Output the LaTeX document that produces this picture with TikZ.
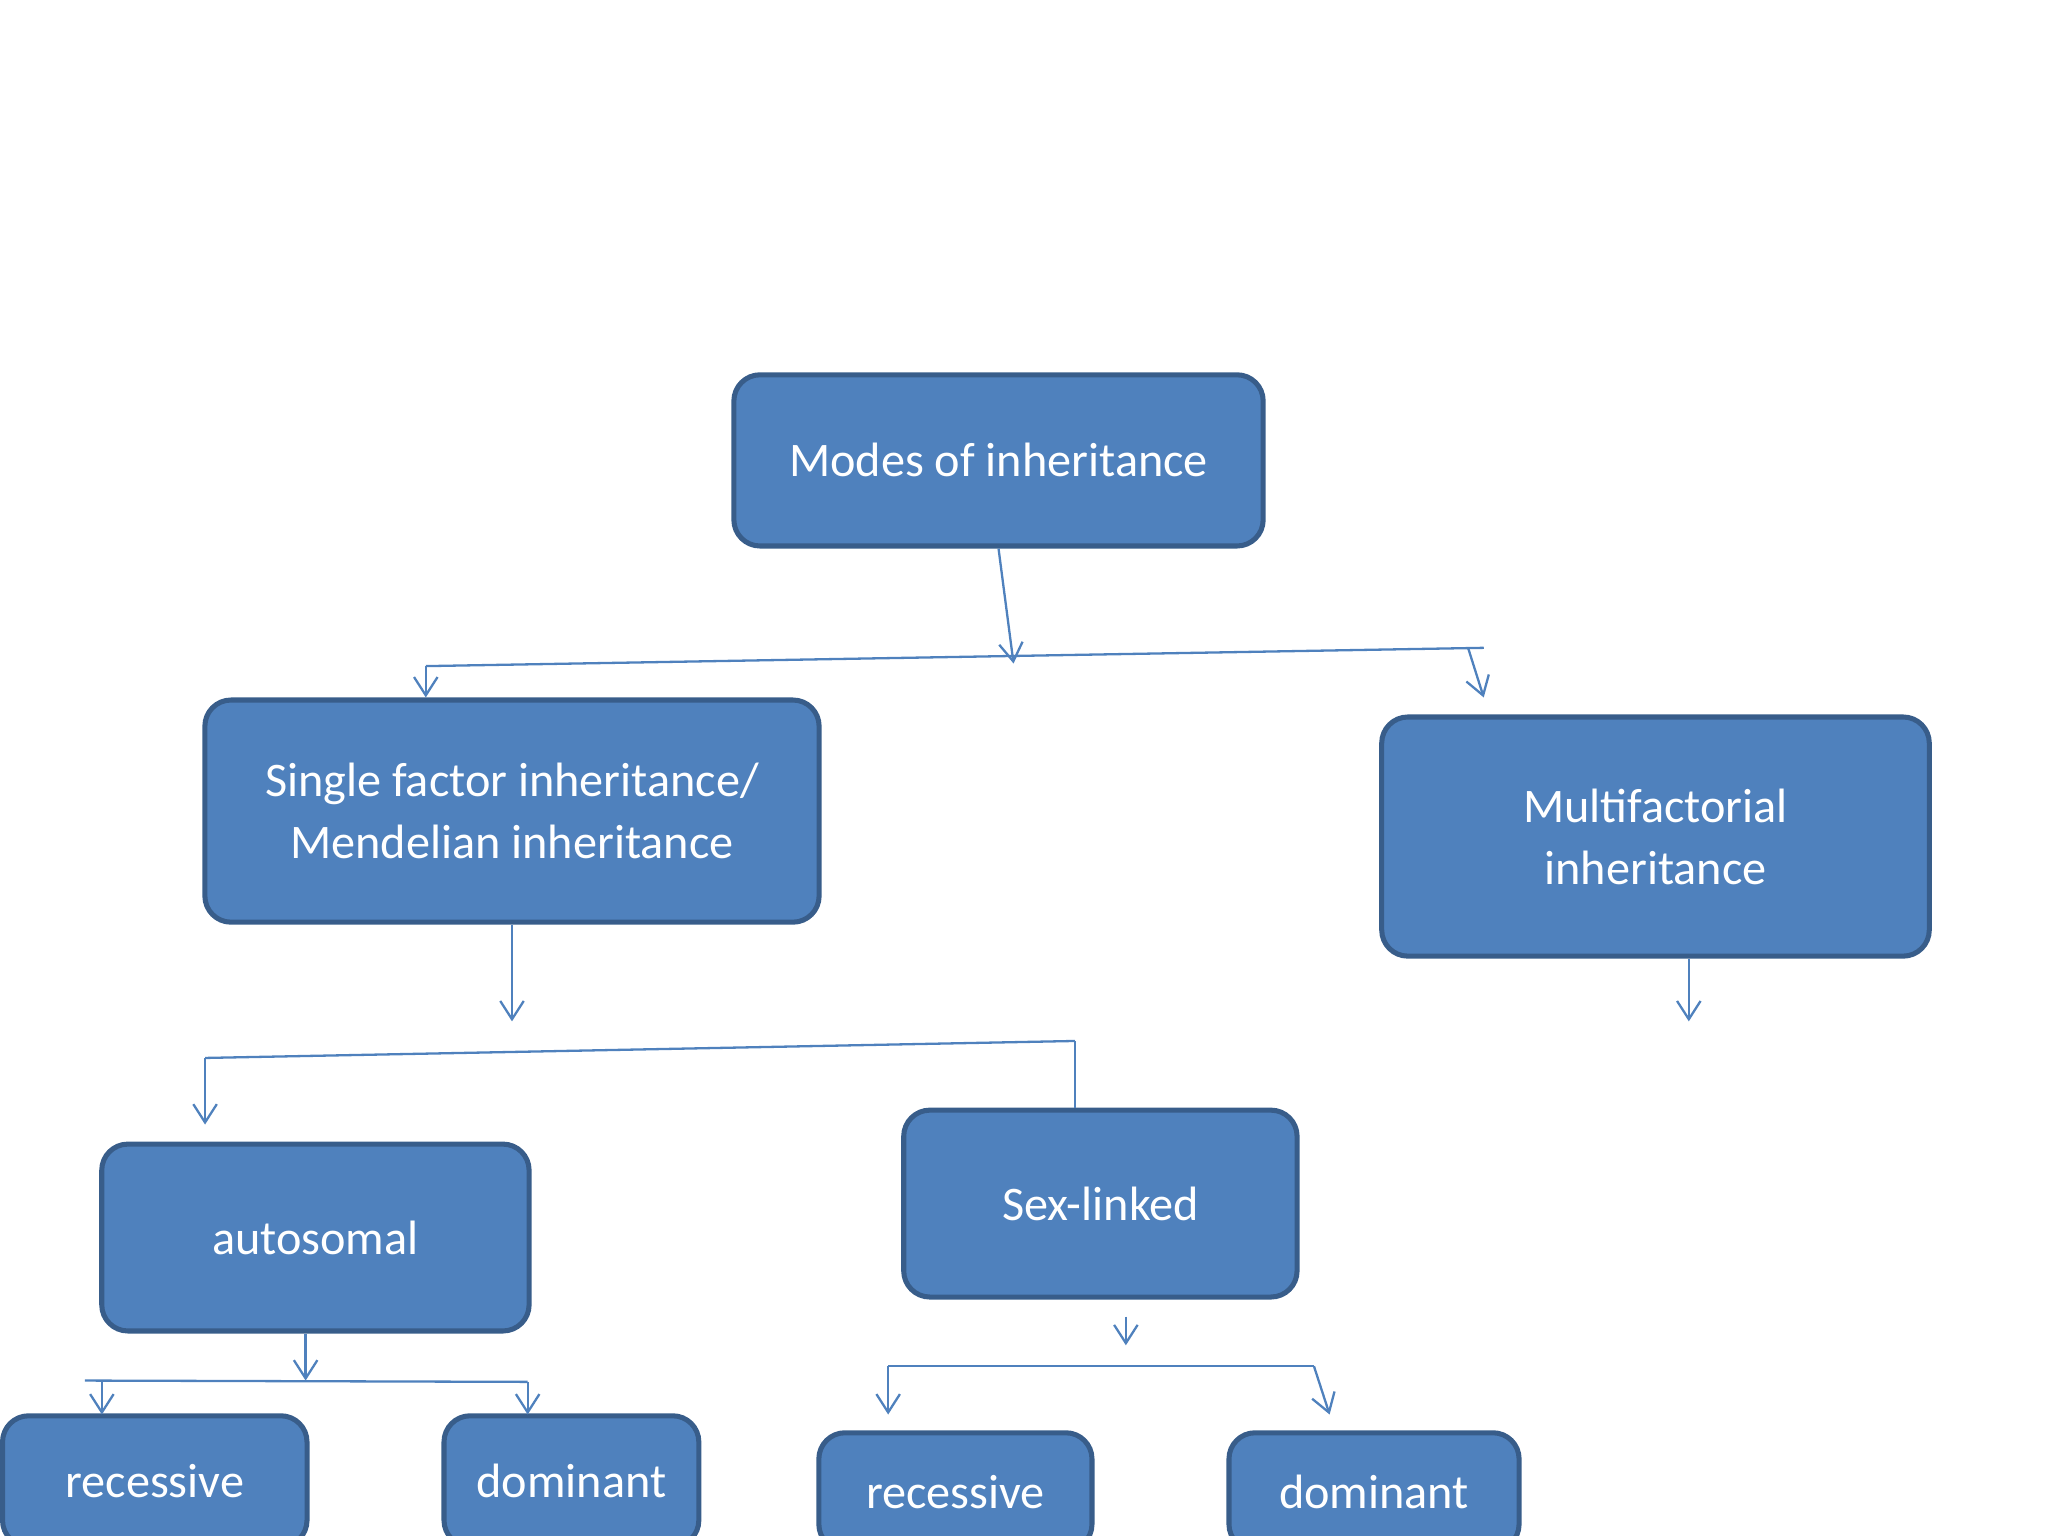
\documentclass[tikz,border=0pt]{standalone}
\usepackage{fontspec}
\setmainfont{Carlito}
\usetikzlibrary{arrows.meta}
\definecolor{boxfill}{HTML}{4F81BD}
\definecolor{boxline}{HTML}{385D8A}
\begin{document}
\begin{tikzpicture}[x=0.01cm,y=-0.01cm,
  box/.style={draw=boxline,line width=1.1pt,fill=boxfill,rounded corners=0.2cm,text=white,align=center,font=\fontsize{10.5}{13.5}\selectfont,inner sep=0pt},
  con/.style={draw=boxfill,line width=0.5pt},
  arr/.style={con,-{Straight Barb[length=0.14cm,width=0.18cm]}}]
\useasboundingbox (0,0) rectangle (1568,1176);
\clip (0,0) rectangle (1568,1176);
\node[box,minimum width=4.05cm,minimum height=1.31cm] (modes) at (764.5,352.5) {Modes of inheritance};
\node[box,minimum width=4.7cm,minimum height=1.7cm] (single) at (392,621) {Single factor inheritance/\\Mendelian inheritance};
\node[box,minimum width=4.19cm,minimum height=1.83cm] (multi) at (1267.5,640.5) {Multifactorial\\inheritance};
\node[box,minimum width=3.27cm,minimum height=1.43cm] (auto) at (241.5,947.5) {autosomal};
\node[box,minimum width=3.01cm,minimum height=1.43cm] (sex) at (842.5,921.5) {Sex-linked};
\node[box,minimum width=2.33cm,minimum height=1.0cm] (rec1) at (118.5,1134) {recessive};
\node[box,minimum width=1.95cm,minimum height=1.0cm] (dom1) at (437.5,1134) {dominant};
\node[box,minimum width=2.09cm,minimum height=0.9cm] (rec2) at (731.5,1142) {recessive};
\node[box,minimum width=2.22cm,minimum height=0.9cm] (dom2) at (1052,1142) {dominant};
% level 1
\coordinate (m1) at (776,508);
\coordinate (h1l) at (326,510);
\coordinate (h1r) at (1136,496);
\coordinate (h1k) at (1124,496);
\coordinate (a1) at (326,534);
\coordinate (a2) at (1136,534);
\draw[arr] (modes.south) -- (m1);
\draw[con] (h1l) -- (h1r);
\draw[arr] (h1l) -- (a1);
\draw[arr] (h1k) -- (a2);
% level 2
\coordinate (s1) at (392,782);
\coordinate (mu1) at (1293,782);
\draw[arr] (single.south) -- (s1);
\draw[arr] (multi.south -| mu1) -- (mu1);
\coordinate (h2l) at (157,810);
\coordinate (h2r) at (823,797);
\coordinate (a3) at (157,861);
\draw[con] (h2l) -- (h2r);
\draw[arr] (h2l) -- (a3);
\draw[con] (h2r) -- (h2r |- sex.north);
% autosomal
\coordinate (au1) at (234,1057);
\draw[arr] (auto.south -| au1) -- (au1);
\coordinate (h3l) at (65,1057);
\coordinate (h3r) at (404,1058);
\coordinate (h3a) at (78,1057);
\draw[con] (h3l) -- (h3r);
\draw[arr] (h3a) -- (78,1083);
\draw[arr] (h3r) -- (404,1083);
% sex-linked
\coordinate (sx0) at (862,1008);
\coordinate (sx1) at (862,1030);
\draw[arr] (sx0) -- (sx1);
\coordinate (h4l) at (680,1046);
\coordinate (h4r) at (1006,1046);
\draw[con] (h4l) -- (h4r);
\draw[arr] (h4l) -- (680,1083);
\draw[arr] (h4r) -- (1018,1083);
\end{tikzpicture}
\end{document}
